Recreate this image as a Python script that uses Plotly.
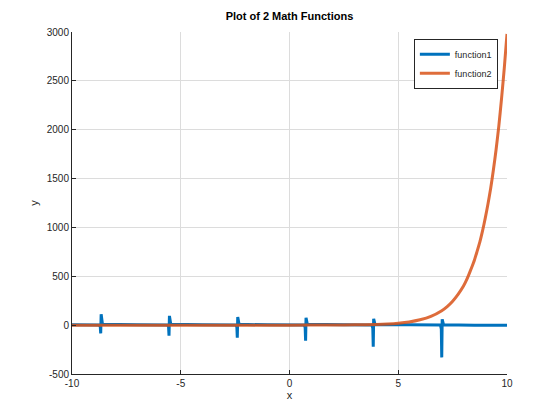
import plotly.graph_objects as go

# function1: baseline with spikes
x1 = [-10, -8.75, -8.70, -8.68, -8.66, -8.60, -7.0, -5.60, -5.56, -5.54, -5.52, -5.46, -4.0,
      -2.46, -2.42, -2.40, -2.38, -2.32, -1.0, 0.68, 0.72, 0.74, 0.76, 0.82, 2.5,
      3.79, 3.83, 3.85, 3.87, 3.93, 5.5, 6.94, 6.98, 7.00, 7.02, 7.08, 8.5, 10]
y1 = [3, 1, -15, -85, 112, 10, 3, 1, -18, -108, 95, 9, 3,
      1, -20, -129, 83, 8, 3, 1, -25, -160, 75, 8, 3,
      1, -30, -221, 65, 7, 4, 2, -40, -330, 59, 5, 0, -2]

# function2: rising curve
x2 = [-10, -6, -2, 0, 2, 3, 4, 4.5, 5, 5.5, 6, 6.5, 7, 7.25, 7.5, 7.75, 8, 8.125, 8.25,
      8.375, 8.5, 8.625, 8.75, 8.875, 9, 9.125, 9.25, 9.375, 9.5, 9.625, 9.75, 9.875, 10]
y2 = [0, 0, 0, 0.1, 1, 3, 7, 12, 20, 33, 55, 90, 148, 190, 245, 315, 400, 455, 520,
      590, 665, 755, 850, 965, 1095, 1240, 1400, 1590, 1800, 2040, 2320, 2630, 2980]

fig = go.Figure()
fig.add_trace(go.Scatter(x=x1, y=y1, mode="lines", name="function1",
                         line=dict(color="#0072BD", width=3)))
fig.add_trace(go.Scatter(x=x2, y=y2, mode="lines", name="function2",
                         line=dict(color="#D95319", width=3, shape="spline", smoothing=0.6),
                         opacity=0.85))

axis_style = dict(showline=True, linecolor="#262626", linewidth=1, ticks="inside", ticklen=4,
                  tickcolor="#262626", showgrid=True, gridcolor="#dcdcdc", gridwidth=1,
                  zeroline=False, tickfont=dict(size=10, color="#262626"), mirror=False,
                  automargin=False)

xt = [-10, -5, 0, 5, 10]
yt = [-500, 0, 500, 1000, 1500, 2000, 2500, 3000]

fig.update_xaxes(range=[-10, 10], tickvals=xt, ticktext=[str(v) for v in xt],
                 title=dict(text="x", font=dict(size=11, color="#262626"), standoff=2),
                 **axis_style)
fig.update_yaxes(range=[-500, 3000], tickvals=yt, ticktext=[str(v) for v in yt],
                 title=dict(text="y", font=dict(size=11, color="#262626"), standoff=5),
                 **axis_style)

# page body has an 8px margin, so the figure is shifted left/up to compensate
fig.update_layout(
    width=560, height=420,
    margin=dict(l=64, r=61, t=24, b=54, autoexpand=False),
    font=dict(family="Liberation Sans, Arial, sans-serif", color="#262626"),
    title=dict(text="<b>Plot of 2 Math Functions</b>", x=0.5, xref="paper",
               y=1 - 8 / 420, yref="container", yanchor="middle", pad=dict(t=0, b=0),
               font=dict(size=11, color="black"), automargin=False),
    plot_bgcolor="white", paper_bgcolor="white",
    legend=dict(x=0.979, y=0.98, xanchor="right", yanchor="top",
                bgcolor="white", bordercolor="#262626", borderwidth=1,
                font=dict(size=9), tracegroupgap=0, itemwidth=30),
    showlegend=True,
)

fig.write_html("out.html")
